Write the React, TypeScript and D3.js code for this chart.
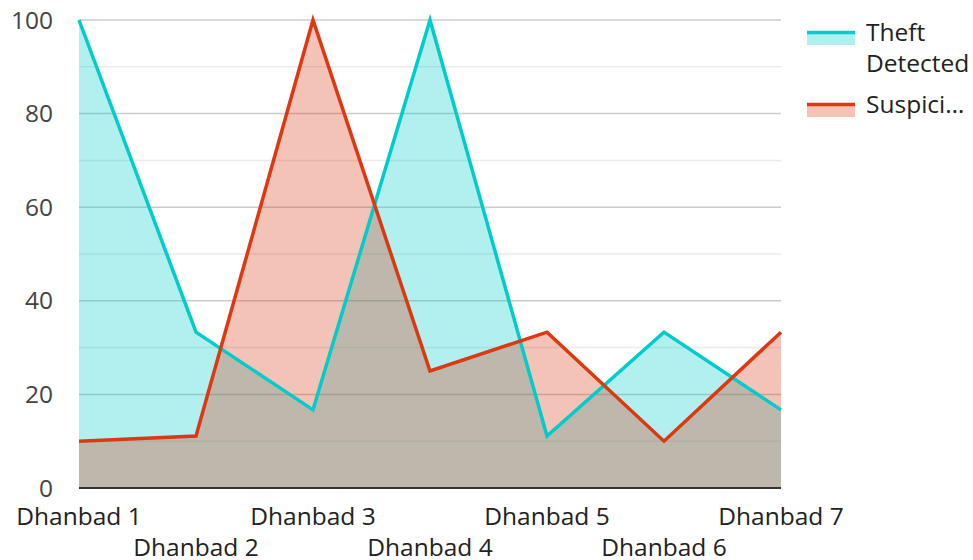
import React from "react";
import * as d3 from "d3";

const categories = ["Dhanbad 1", "Dhanbad 2", "Dhanbad 3", "Dhanbad 4", "Dhanbad 5", "Dhanbad 6", "Dhanbad 7"];
const theftDetected = [100, 33.3, 16.7, 100, 11.1, 33.3, 16.7];
const suspicious = [10, 11.1, 100, 25, 33.3, 10, 33.3];
const seriesNames = ["Theft Detected", "Suspicious"];
const seriesColors = ["#00cccc", "#dc3912"];
const yTicks = [0, 20, 40, 60, 80, 100];
const yMinor = [10, 30, 50, 70, 90];

const W = 973, H = 560;
const left = 79, right = 781, top = 20, bottom = 488;
const font = "'Open Sans', 'Noto Sans', sans-serif";

export default function App() {
  const x = d3.scalePoint<string>().domain(categories).range([left, right]);
  const y = d3.scaleLinear().domain([0, 100]).range([bottom, top]);
  const series = [theftDetected, suspicious];
  const area = d3.area<number>().x((_, i) => x(categories[i])!).y0(y(0)).y1((d) => y(d));
  const line = d3.line<number>().x((_, i) => x(categories[i])!).y((d) => y(d));
  return (
    <svg width={W} height={H} style={{ position: "absolute", left: 0, top: 0, fontFamily: font }}>
      <rect width={W} height={H} fill="#fff" />
      {yMinor.map((t) => (
        <line key={"m" + t} x1={left} x2={right} y1={y(t)} y2={y(t)} stroke="#ebebeb" strokeWidth={1.5} />
      ))}
      {yTicks.filter((t) => t > 0).map((t) => (
        <line key={"g" + t} x1={left} x2={right} y1={y(t)} y2={y(t)} stroke="#cccccc" strokeWidth={1.5} />
      ))}
      {series.map((s, i) => (
        <path key={"a" + i} d={area(s)!} fill={seriesColors[i]} fillOpacity={0.3} />
      ))}
      {series.map((s, i) => (
        <path key={"l" + i} d={line(s)!} fill="none" stroke={seriesColors[i]} strokeWidth={3.5} strokeLinejoin="miter" />
      ))}
      <line x1={left} x2={right} y1={bottom} y2={bottom} stroke="#333" strokeWidth={2} />
      {yTicks.map((t) => (
        <text key={"y" + t} x={53} y={y(t)} dy="0.35em" textAnchor="end" fontSize={24.5} fill="#444">{t}</text>
      ))}
      {categories.map((c, i) => (
        <text key={c} x={x(c)!} y={i % 2 === 0 ? 525 : 556} textAnchor="middle" fontSize={24.5} fill="#222">{c}</text>
      ))}
      <g>
        <rect x={807} y={31} width={48} height={14} fill={seriesColors[0]} fillOpacity={0.3} />
        <line x1={807} x2={855} y1={32.5} y2={32.5} stroke={seriesColors[0]} strokeWidth={3.5} />
        <text x={866} y={41} fontSize={24.5} fill="#222">Theft</text>
        <text x={866} y={72} fontSize={24.5} fill="#222">Detected</text>
        <rect x={807} y={103} width={48} height={14} fill={seriesColors[1]} fillOpacity={0.3} />
        <line x1={807} x2={855} y1={104.5} y2={104.5} stroke={seriesColors[1]} strokeWidth={3.5} />
        <text x={866} y={113} fontSize={24.5} fill="#222">Suspici…</text>
      </g>
    </svg>
  );
}
